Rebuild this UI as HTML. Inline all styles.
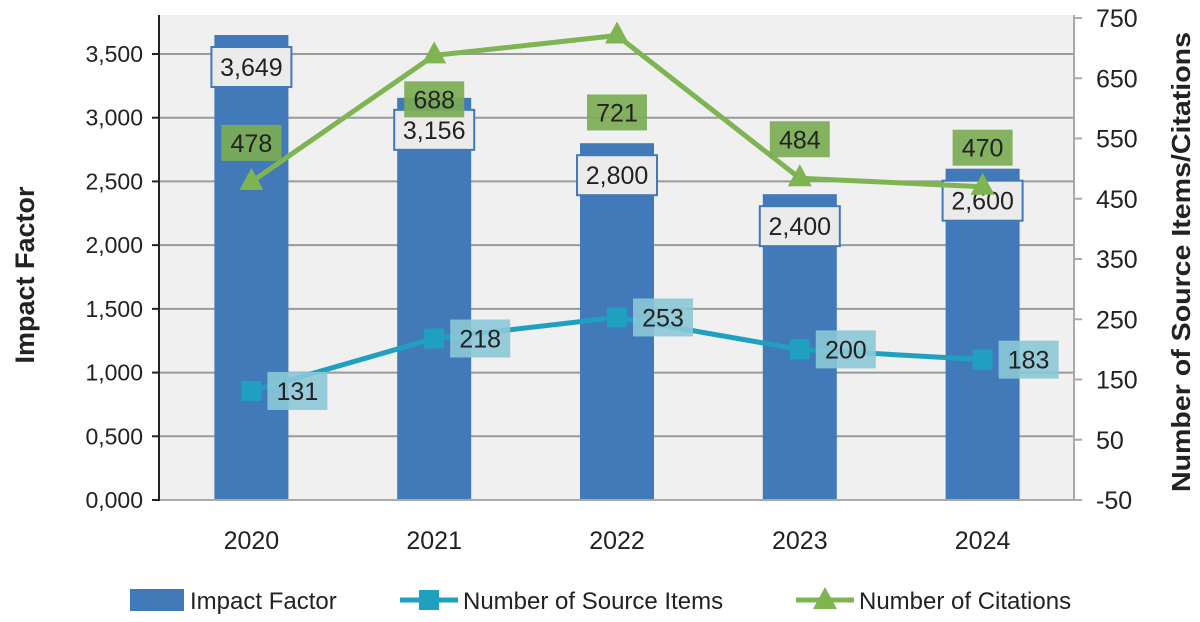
<!DOCTYPE html>
<html><head><meta charset="utf-8"><style>
body{margin:0;background:#fff;}
svg text{font-family:"Liberation Sans",sans-serif;}
</style></head><body>
<svg id="chart" width="1200" height="617" viewBox="0 0 1200 617"></svg>
<script>
const years = ["2020","2021","2022","2023","2024"];
const impactFactor = [3649,3156,2800,2400,2600];
const impactLabels = ["3,649","3,156","2,800","2,400","2,600"];
const sourceItems = [131,218,253,200,183];
const citations = [478,688,721,484,470];
const leftTicks = ["0,000","0,500","1,000","1,500","2,000","2,500","3,000","3,500"];
const leftTickValues = [0,500,1000,1500,2000,2500,3000,3500];
const rightTickValues = [-50,50,150,250,350,450,550,650,750];

const NS="http://www.w3.org/2000/svg";
const svg=document.getElementById('chart');
function el(tag,attrs,parent){const e=document.createElementNS(NS,tag);for(const k in attrs)e.setAttribute(k,attrs[k]);(parent||svg).appendChild(e);return e;}
const X0=160,X1=1074,Y0=500,YT=15;
const band=(X1-X0)/years.length;
const xC=i=>X0+band*(i+0.5);
const yL=v=>Y0-v*(446/3500);
const yR=v=>Y0-(v+50)*(482/800);

const bg=el('rect',{x:X0,y:YT,width:X1-X0,height:Y0-YT,fill:'#f0f0f0'});


leftTickValues.forEach((v,i)=>{
  const y=yL(v);
  if(v>0){const g=el('line',{x1:X0,x2:X1,y1:y,y2:y,stroke:'#9a9a9a','stroke-width':2});
  
  }
  el('line',{x1:152,x2:X0,y1:y,y2:y,stroke:'#222','stroke-width':2});
  const t=el('text',{x:143,y:y+8,'text-anchor':'end','font-size':23,fill:'#222'});
  t.textContent=leftTicks[i];
  
  
});
rightTickValues.forEach(v=>{
  const y=yR(v);
  el('line',{x1:X1,x2:1082,y1:y,y2:y,stroke:'#aaa','stroke-width':2});
  const t=el('text',{x:1096,y:y+9,'font-size':25,fill:'#222'});
  t.textContent=v;
  
  
});
impactFactor.forEach((v,i)=>{
  const b=el('rect',{x:xC(i)-37,y:yL(v),width:74,height:Y0-yL(v),fill:'#4279b8'});
  
  
});
el('line',{x1:159,x2:159,y1:YT,y2:Y0,stroke:'#222','stroke-width':2});
el('line',{x1:X1,x2:X1,y1:YT,y2:Y0,stroke:'#aaa','stroke-width':2});
el('line',{x1:X0,x2:1082,y1:Y0,y2:Y0,stroke:'#aaa','stroke-width':2});
years.forEach((yr,i)=>{
  const t=el('text',{x:xC(i),y:549,'text-anchor':'middle','font-size':25,fill:'#222'});
  t.textContent=yr;
  
  
});
impactFactor.forEach((v,i)=>{
  const cy=yL(v)+32;
  const r=el('rect',{x:xC(i)-40,y:cy-20,width:80,height:40,fill:'#ebebeb',stroke:'#4279b8','stroke-width':2});
  
  
  const t=el('text',{x:xC(i),y:cy+9,'text-anchor':'middle','font-size':25,fill:'#222'});
  t.textContent=impactLabels[i];
});
const sPts=sourceItems.map((v,i)=>xC(i)+','+yR(v)).join(' ');
const sl=el('polyline',{points:sPts,fill:'none',stroke:'#1fa0c0','stroke-width':5});


sourceItems.forEach((v,i)=>{
  const m=el('rect',{x:xC(i)-10,y:yR(v)-10,width:20,height:20,fill:'#1fa0c0'});
  
  
});
const cPts=citations.map((v,i)=>xC(i)+','+yR(v)).join(' ');
const cl=el('polyline',{points:cPts,fill:'none',stroke:'#7eb452','stroke-width':5});


citations.forEach((v,i)=>{
  const x=xC(i),y=yR(v);
  const m=el('polygon',{points:`${x},${y-14} ${x-12},${y+8} ${x+12},${y+8}`,fill:'#7eb452'});
  
  
});
sourceItems.forEach((v,i)=>{
  const cx=xC(i)+46,cy=yR(v);
  const r=el('rect',{x:cx-30,y:cy-19,width:60,height:38,fill:'rgba(140,200,215,0.9)'});
  
  
  const t=el('text',{x:cx,y:cy+9,'text-anchor':'middle','font-size':25,fill:'#222'});
  t.textContent=v;
});
citations.forEach((v,i)=>{
  const y=yR(v);
  const cy=(i>0 && y<90)? (i===2? y+77 : y+44) : y-39;
  const r=el('rect',{x:xC(i)-30,y:cy-18,width:60,height:36,fill:'rgba(124,172,84,0.92)'});
  
  
  const t=el('text',{x:xC(i),y:cy+9,'text-anchor':'middle','font-size':25,fill:'#222'});
  t.textContent=v;
});
let t=el('text',{transform:'translate(34,275) rotate(-90)','text-anchor':'middle','font-size':27,'font-weight':'bold',fill:'#222'});
t.textContent='Impact Factor';


t=el('text',{transform:'translate(1190,262) rotate(-90)','text-anchor':'middle','font-size':26,'font-weight':'bold',fill:'#222',textLength:460,lengthAdjust:'spacingAndGlyphs'});
t.textContent='Number of Source Items/Citations';


let g=el('g',{});


el('rect',{x:130,y:589,width:54,height:22,fill:'#4279b8'},g);
el('text',{x:190,y:609,'font-size':24,fill:'#222'},g).textContent='Impact Factor';
g=el('g',{});


el('line',{x1:400,x2:458,y1:600,y2:600,stroke:'#1fa0c0','stroke-width':5},g);
el('rect',{x:419,y:590,width:20,height:20,fill:'#1fa0c0'},g);
el('text',{x:463,y:609,'font-size':24,fill:'#222'},g).textContent='Number of Source Items';
g=el('g',{});


el('line',{x1:796,x2:854,y1:600,y2:600,stroke:'#7eb452','stroke-width':5},g);
el('polygon',{points:'825,587 813,609 837,609',fill:'#7eb452'},g);
el('text',{x:859,y:609,'font-size':24,fill:'#222'},g).textContent='Number of Citations';
</script>
</body></html>
